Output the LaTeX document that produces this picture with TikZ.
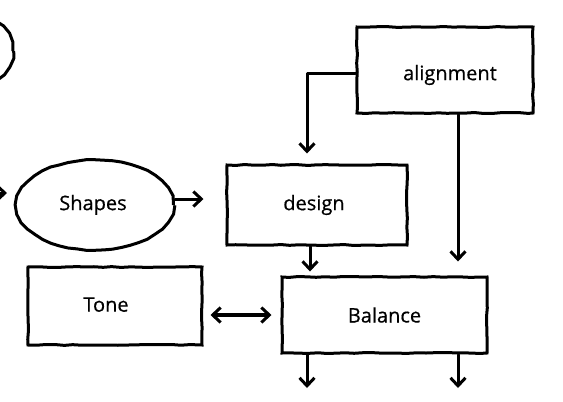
\documentclass[tikz,border=0pt]{standalone}
\usepackage{fontspec}
\setmainfont{Open Sans}
\newfontfamily\lblfont{Open Sans}[FakeBold=0.5]
\usetikzlibrary{shapes.geometric,arrows.meta,decorations.pathmorphing}
\tikzset{
  sketch/.style={draw=black, line width=3pt, decorate,
    decoration={random steps, segment length=9pt, amplitude=0.5pt}},
  lbl/.style={font=\lblfont\fontsize{20}{22}\selectfont},
  box/.style={sketch, rectangle, lbl},
  oval/.style={sketch, ellipse, lbl},
  tip/.tip={Straight Barb[length=8pt,width=15pt,line width=3pt]},
  conn/.style={draw=black, line width=3pt, line cap=round, line join=round, -tip},
  conn2/.style={draw=black, line width=3.4pt, line cap=round, tip-tip}
}
\begin{document}
\begin{tikzpicture}[x=1pt,y=-1pt]
\useasboundingbox (0,0) rectangle (563,402);
\clip (0,0) rectangle (563,402);
\fill[white] (0,0) rectangle (563,402);
% nodes
\node[sketch, circle, minimum size=66pt] (c0) at (-20,51) {};
\node[oval, minimum width=157pt, minimum height=90pt] (Shapes) at (95,205) {\raisebox{5pt}{\hspace*{-4pt}Shapes}};
\node[box, minimum width=180pt, minimum height=80pt] (design) at (317,205) {\hspace*{-6pt}design};
\node[box, minimum width=176pt, minimum height=86pt,
  label={[lbl, xshift=5pt, yshift=-5pt]center:alignment}] (alignment) at (445,70) {};
\node[box, minimum width=205pt, minimum height=76pt] (Balance) at (384.5,315) {Balance};
\node[box, minimum width=174pt, minimum height=78pt] (Tone) at (115,306) {\raisebox{3pt}{\hspace*{-18pt}Tone}};
% free ends
\coordinate (in0) at (-6,193);
\coordinate (o1) at (307,388);
\coordinate (o2) at (458,388);
% connectors
\draw[conn] (in0) -- ([xshift=-8pt]Shapes.west |- in0);
\draw[conn] ([yshift=6pt]Shapes.east) -- ([xshift=-22pt,yshift=6pt]design.west);
\draw[conn] (design.south -| 310,0) -- ([yshift=4pt]Balance.north -| 310,0);
\draw[conn] ([yshift=-3pt]alignment.west) -| ([yshift=10pt]design.north -| 307,0);
\draw[conn] (alignment.south -| 458,0) -- ([yshift=14pt]Balance.north -| 458,0);
\draw[conn2] ([xshift=7pt]Tone.east |- 0,315) -- ([xshift=-9pt]Balance.west);
\draw[conn] (Balance.south -| o1) -- (o1);
\draw[conn] (Balance.south -| o2) -- (o2);
\end{tikzpicture}
\end{document}
